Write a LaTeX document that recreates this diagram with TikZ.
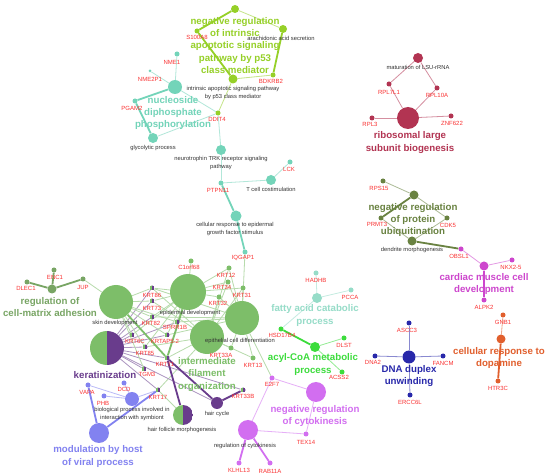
\documentclass[tikz,border=0pt]{standalone}
\usepackage{fontspec}
\setmainfont{Liberation Sans}
\usetikzlibrary{backgrounds}
\definecolor{cLime}{RGB}{150,208,40}
\definecolor{cTeal}{RGB}{115,212,185}
\definecolor{cRibo}{RGB}{178,52,82}
\definecolor{cOlive}{RGB}{105,130,65}
\definecolor{cMag}{RGB}{205,70,205}
\definecolor{cOrange}{RGB}{225,95,45}
\definecolor{cNavy}{RGB}{40,40,170}
\definecolor{cGreen}{RGB}{125,190,105}
\definecolor{cPurple}{RGB}{105,60,140}
\definecolor{cBlue}{RGB}{130,130,240}
\definecolor{cViolet}{RGB}{210,110,240}
\definecolor{cAcyl}{RGB}{60,220,60}
\definecolor{cFat}{RGB}{150,220,200}
\definecolor{cCMA}{RGB}{120,165,100}
\definecolor{cRed}{RGB}{250,50,50}
\tikzset{
  dot/.style={circle, inner sep=0pt, minimum size=#1, draw=none},
  dot/.default=5pt,
  halfdot/.style={circle, inner sep=0pt, minimum size=#1, draw=none,
    path picture={\fill[cGreen] (path picture bounding box.south) rectangle (path picture bounding box.north west);
                  \fill[cPurple] (path picture bounding box.south) rectangle (path picture bounding box.north east);}},
  halfdot/.default=5pt,
  glab/.style={text=cRed, font=\fontsize{6}{7}\selectfont, inner sep=0pt},
  tlab/.style={text=black!80, font=\fontsize{5.8}{8}\selectfont, inner sep=0pt, align=center},
  big/.style={font=\bfseries\fontsize{9.7}{12.2}\selectfont, align=center, inner sep=0pt},
  lo/.style={line width=0.8pt, draw=#1!55},
  hi/.style={line width=1.8pt, draw=#1},
}
\newcommand\gn[7]{\node[dot, fill=#4] (#1) at (#2,#3) {};\node[glab] (#1-l) at (#5,#6) {#7};}
\newcommand\hg[6]{\node[halfdot] (#1) at (#2,#3) {};\node[glab] (#1-l) at (#4,#5) {#6};}
\begin{document}
\begin{tikzpicture}[x=1pt,y=-1pt]
\useasboundingbox (0,0) rectangle (550,476);
% ---------- lime cluster
\node[dot=8pt, fill=cLime] (t1) at (235,9) {};
\gn{s100a8}{197}{31}{cLime}{197}{37}{S100A8}
\node[dot=8pt, fill=cLime] (arach) at (283,29) {};
\node[tlab] (arach-l) at (281,38) {arachidonic acid secretion};
\gn{bdkrb2}{273}{75}{cLime}{271}{81}{BDKRB2}
\node[dot=9pt, fill=cLime] (intr) at (233,79) {};
\node[tlab] (intr-l) at (233,93) {intrinsic apoptotic signaling pathway\\by p53 class mediator};
\gn{ddit4}{218}{113}{cLime}{217}{119}{DDIT4}
% ---------- teal cluster
\gn{nme1}{177}{54}{cTeal}{172}{62}{NME1}
\node[dot=3pt, fill=cTeal] (nme2p1) at (150,71) {};
\node[glab] (nme2p1-l) at (150,79) {NME2P1};
\node[dot=14pt, fill=cTeal] (nuc) at (175,87) {};
\gn{pgam2}{135}{101}{cTeal}{132}{108}{PGAM2}
\node[dot=10pt, fill=cTeal] (glyc) at (153,138) {};
\node[tlab] (glyc-l) at (153,148) {glycolytic process};
\node[dot=10pt, fill=cTeal] (neuro) at (221,150) {};
\node[tlab] (neuro-l) at (221,163) {neurotrophin TRK receptor signaling\\pathway};
\gn{lck}{290}{162}{cTeal}{289}{169}{LCK}
\node[dot=10pt, fill=cTeal] (tcell) at (271,180) {};
\node[tlab] (tcell-l) at (271,189) {T cell costimulation};
\gn{ptpn11}{221}{183}{cTeal}{218}{190}{PTPN11}
\node[dot=11pt, fill=cTeal] (egf) at (236,216) {};
\node[tlab] (egf-l) at (235,229) {cellular response to epidermal\\growth factor stimulus};
\gn{iqgap1}{245}{252}{cTeal}{243}{258}{IQGAP1}
% ---------- ribosomal
\node[dot=10pt, fill=cRibo] (lsu) at (418,58) {};
\node[tlab] (lsu-l) at (418,67) {maturation of LSU-rRNA};
\gn{rpl7l1}{389}{84}{cRibo}{389}{92}{RPL7L1}
\gn{rpl10a}{437}{88}{cRibo}{437}{95}{RPL10A}
\node[dot=22pt, fill=cRibo] (ribo) at (408,118) {};
\gn{rpl3}{372}{118}{cRibo}{370}{124}{RPL3}
\gn{znf622}{451}{116}{cRibo}{452}{123}{ZNF622}
% ---------- olive
\gn{rps15}{383}{181}{cOlive}{379}{188}{RPS15}
\node[dot=9pt, fill=cOlive] (ubq) at (414,195) {};
\gn{prmt3}{381}{218}{cOlive}{377}{224}{PRMT3}
\gn{cdk5}{447}{218}{cOlive}{448}{225}{CDK5}
\node[dot=9pt, fill=cOlive] (dendr) at (412,241) {};
\node[tlab] (dendr-l) at (412,250) {dendrite morphogenesis};
% ---------- magenta
\gn{obsl1}{461}{249}{cMag}{459}{256}{OBSL1}
\node[dot=9pt, fill=cMag] (card) at (484,266) {};
\gn{nkx}{512}{260}{cMag}{511}{267}{NKX2-5}
\gn{alpk2}{484}{300}{cMag}{484}{307}{ALPK2}
% ---------- orange
\gn{gnb1}{503}{315}{cOrange}{503}{322}{GNB1}
\node[dot=9pt, fill=cOrange] (dopa) at (501,339) {};
\gn{htr3c}{498}{381}{cOrange}{498}{388}{HTR3C}
% ---------- navy
\gn{ascc3}{409}{323}{cNavy}{407}{330}{ASCC3}
\node[dot=13pt, fill=cNavy] (dna) at (409,357) {};
\gn{dna2}{375}{356}{cNavy}{373}{362}{DNA2}
\gn{fancm}{443}{356}{cNavy}{443}{363}{FANCM}
\gn{ercc6l}{410}{395}{cNavy}{410}{402}{ERCC6L}
% ---------- cell-matrix adhesion
\gn{dlec1}{27}{282}{cCMA}{26}{288}{DLEC1}
\gn{enc1}{54}{270}{cCMA}{55}{277}{ENC1}
\gn{jup}{83}{279}{cCMA}{83}{287}{JUP}
\node[dot=9pt, fill=cCMA] (cma) at (52,289) {};
% ---------- keratin cluster
\node[dot=34pt, fill=cGreen] (skin) at (116,302) {};
\node[dot=36pt, fill=cGreen] (epid) at (188,292) {};
\node[dot=34pt, fill=cGreen] (epith) at (242,318) {};
\node[dot=34pt, fill=cGreen] (ifo) at (207,337) {};
\node[halfdot=34pt] (kera) at (107,348) {};
\gn{c1orf68}{191}{261}{cGreen}{189}{267}{C1orf68}
\gn{krt12}{229}{268}{cGreen}{226}{275}{KRT12}
\gn{krt34}{228}{282}{cGreen}{222}{287}{KRT34}
\gn{krt31}{243}{288}{cGreen}{242}{295}{KRT31}
\gn{krt32}{219}{297}{cGreen}{218}{303}{KRT32}
\gn{krt33a}{231}{348}{cGreen}{221}{355}{KRT33A}
\gn{krt13}{253}{358}{cGreen}{253}{365}{KRT13}
\hg{krt86}{152}{288}{152}{295}{KRT86}
\hg{krt73}{152}{301}{152}{308}{KRT73}
\hg{krt82}{152}{317}{151}{323}{KRT82}
\hg{sprr1b}{177}{322}{175}{327}{SPRR1B}
\hg{krt6c}{132}{335}{135}{341}{KRT6C}
\hg{krtap52}{167}{335}{165}{341}{KRTAP5-2}
\hg{krt85}{145}{347}{145}{353}{KRT85}
\hg{krt71}{167}{358}{165}{364}{KRT71}
\hg{tgm3}{144}{369}{147}{374}{TGM3}
\hg{krt17}{158}{390}{158}{397}{KRT17}
\hg{krt33b}{243}{390}{243}{396}{KRT33B}
\node[dot=12pt, fill=cPurple] (hc) at (217,403) {};
\node[tlab] (hc-l) at (217,414) {hair cycle};
\node[halfdot=20pt] (hf) at (183,415) {};
\node[tlab] (hf-l) at (182,430) {hair follicle morphogenesis};
\node[tlab] (skin-l) at (115,323) {skin development};
\node[tlab] (epid-l) at (190,313) {epidermal development};
\node[tlab] (epith-l) at (240,341) {epithelial cell differentiation};
% ---------- modulation
\gn{vapa}{88}{385}{cBlue}{87}{392}{VAPA}
\gn{dcd}{124}{383}{cBlue}{124}{389}{DCD}
\gn{phb}{104}{396}{cBlue}{103}{403}{PHB}
\node[dot=14pt, fill=cBlue] (bio) at (132,399) {};
\node[tlab] (bio-l) at (132,414) {biological process involved in\\interaction with symbiont};
\node[dot=20pt, fill=cBlue] (mod) at (99,433) {};
% ---------- cytokinesis
\gn{e2f7}{272}{378}{cViolet}{272}{384}{E2F7}
\node[dot=20pt, fill=cViolet] (ncyt) at (316,392) {};
\gn{tex14}{306}{434}{cViolet}{306}{442}{TEX14}
\node[dot=20pt, fill=cViolet] (rcyt) at (248,430) {};
\node[tlab] (rcyt-l) at (245,446) {regulation of cytokinesis};
\gn{klhl13}{239}{463}{cViolet}{239}{470}{KLHL13}
\gn{rab11a}{270}{463}{cViolet}{270}{471}{RAB11A}
% ---------- acyl / fatty
\gn{hsd}{281}{329}{cAcyl}{282}{335}{HSD17B4}
\node[dot=10pt, fill=cAcyl] (acyl) at (315,347) {};
\gn{dlst}{344}{338}{cAcyl}{344}{345}{DLST}
\gn{acss2}{342}{372}{cAcyl}{339}{377}{ACSS2}
\gn{hadhb}{316}{273}{cFat}{316}{280}{HADHB}
\node[dot=10pt, fill=cFat] (fatty) at (317,298) {};
\gn{pcca}{351}{290}{cFat}{350}{297}{PCCA}
% ---------- big labels
\node[big, text=cLime] (L-apo) at (235,45.5) {negative regulation\\of intrinsic\\apoptotic signaling\\pathway by p53\\class mediator};
\node[big, text=cTeal] (L-nuc) at (173,113) {nucleoside\\diphosphate\\phosphorylation};
\node[big, text=cRibo] (L-ribo) at (410,142.5) {ribosomal large\\subunit biogenesis};
\node[big, text=cOlive] (L-ubq) at (413,220) {negative regulation\\of protein\\ubiquitination};
\node[big, text=cMag] (L-card) at (484,284) {cardiac muscle cell\\development};
\node[big, text=cOrange] (L-dopa) at (499,358) {cellular response to\\dopamine};
\node[big, text=cNavy] (L-dna) at (409,376) {DNA duplex\\unwinding};
\node[big, text=cCMA] (L-cma) at (50,307) {regulation of\\cell-matrix adhesion};
\node[big, text=cPurple] (L-kera) at (105,375) {keratinization};
\node[big, text=cGreen] (L-ifo) at (207,374.5) {intermediate\\filament\\organization};
\node[big, text=cBlue] (L-mod) at (98,456.5) {modulation by host\\of viral process};
\node[big, text=cViolet] (L-cyt) at (315,416) {negative regulation\\of cytokinesis};
\node[big, text=cAcyl] (L-acyl) at (313,364.5) {acyl-CoA metabolic\\process};
\node[big, text=cFat] (L-fat) at (315,315.5) {fatty acid catabolic\\process};
% ---------- edges
\begin{scope}[on background layer]
\fill[white] (0,0) rectangle (550,476);
\draw[hi=cLime] (t1) -- (s100a8);
\draw[hi=cLime] (s100a8) -- (intr);
\draw[lo=cLime] (t1) -- (arach);
\draw[hi=cLime] (arach) -- (bdkrb2);
\draw[lo=cLime] (bdkrb2) -- (intr);
\draw[lo=cLime] (intr) -- (ddit4);
\draw[lo=cTeal] (nme1) -- (nuc);
\draw[lo=cTeal] (nme2p1) -- (nuc);
\draw[hi=cTeal] (nuc) -- (pgam2);
\draw[hi=cTeal] (pgam2) -- (glyc);
\draw[lo=cTeal] (nuc) -- (ddit4);
\draw[lo=cTeal] (glyc) -- (ddit4);
\draw[lo=cTeal] (ddit4) -- (neuro);
\draw[lo=cTeal] (neuro) -- (ptpn11);
\draw[lo=cTeal] (ptpn11) -- (tcell);
\draw[lo=cTeal] (tcell) -- (lck);
\draw[hi=cTeal] (ptpn11) -- (egf);
\draw[hi=cTeal] (egf) -- (iqgap1);
\foreach \a/\b in {lsu/rpl7l1, lsu/rpl10a, rpl7l1/ribo, rpl10a/ribo, rpl3/ribo, ribo/znf622}
  \draw[lo=cRibo] (\a) -- (\b);
\draw[lo=cOlive] (rps15) -- (ubq);
\draw[hi=cOlive] (ubq) -- (prmt3);
\draw[lo=cOlive] (ubq) -- (cdk5);
\draw[lo=cOlive] (prmt3) -- (dendr);
\draw[lo=cOlive] (cdk5) -- (dendr);
\draw[hi=cOlive] (dendr) -- (obsl1);
\draw[lo=cMag] (obsl1) -- (card);
\draw[lo=cMag] (card) -- (nkx);
\draw[hi=cMag] (card) -- (alpk2);
\draw[lo=cOrange] (gnb1) -- (dopa);
\draw[hi=cOrange] (dopa) -- (htr3c);
\foreach \b in {ascc3, dna2, fancm, ercc6l} \draw[lo=cNavy] (dna) -- (\b);
\foreach \b in {dlec1, enc1, jup} \draw[hi=cCMA] (cma) -- (\b);
\draw[lo=cGreen] (jup) -- (skin);
\foreach \k in {krt86,krt73,krt82,sprr1b,krt6c,krtap52,krt85} {
  \draw[lo=cGreen] (skin) -- (\k);
  \draw[lo=cGreen] (epid) -- (\k);
  \draw[lo=cPurple] (kera) -- (\k);
}
\foreach \k in {c1orf68,krt12,krt34,krt31,krt32} \draw[lo=cGreen] (epid) -- (\k);
\foreach \k in {krt12,krt34,krt31,krt32,krt33a,krt13,iqgap1,krt86,krt82,sprr1b,krtap52} \draw[lo=cGreen] (epith) -- (\k);
\foreach \k in {krt12,krt34,krt31,krt32,krt33a,krt13,krt85,krt71,krt86,krt73,krt17} \draw[lo=cGreen] (ifo) -- (\k);
\draw[lo=cPurple] (kera) -- (krt71);
\draw[lo=cPurple] (kera) -- (tgm3);
\draw[lo=cPurple] (kera) -- (krt17);
\draw[lo=cPurple] (kera) -- (krt33b);
\draw[lo=cPurple] (kera) -- (hc);
\draw[lo=cGreen] (skin) -- (tgm3);
\draw[lo=cGreen] (e2f7) -- (epith);
\draw[hi=cGreen] (skin) -- (krt71);
\draw[hi=cGreen] (epid) -- (krt71);
\draw[hi=cPurple] (krt71) -- (hc);
\draw[hi=cPurple] (krt71) -- (hf);
\draw[hi=cPurple] (hc) -- (krt33b);
\draw[lo=cGreen] (krt17) -- (hf);
\draw[hi=cBlue] (vapa) -- (mod);
\draw[lo=cBlue] (vapa) -- (bio);
\draw[lo=cBlue] (dcd) -- (bio);
\draw[lo=cBlue] (phb) -- (bio);
\draw[lo=cBlue] (bio) -- (krt17);
\draw[hi=cBlue] (mod) -- (krt17);
\draw[lo=cViolet] (e2f7) -- (ncyt);
\draw[lo=cViolet] (e2f7) -- (rcyt);
\draw[lo=cViolet] (rcyt) -- (tex14);
\draw[lo=cViolet] (ncyt) -- (tex14);
\draw[hi=cViolet] (rcyt) -- (klhl13);
\draw[hi=cViolet] (rcyt) -- (rab11a);
\draw[hi=cAcyl] (hsd) -- (acyl);
\draw[lo=cAcyl] (acyl) -- (dlst);
\draw[lo=cAcyl] (acyl) -- (acss2);
\draw[lo=cFat] (hadhb) -- (fatty);
\draw[lo=cFat] (fatty) -- (pcca);
\draw[lo=cFat] (fatty) -- (hsd);
\end{scope}
\end{tikzpicture}
\end{document}
